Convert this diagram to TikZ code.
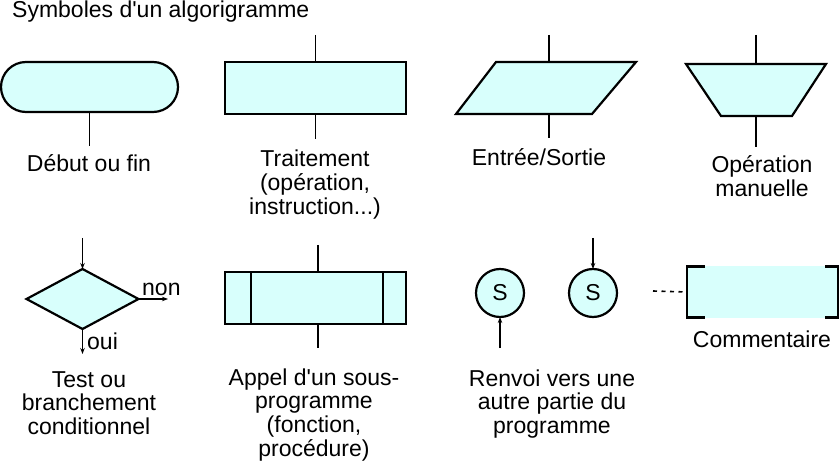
\documentclass[tikz,border=0pt]{standalone}
\usepackage{fontspec}
\setmainfont{Liberation Sans}[Ligatures=TeXOff]
\usetikzlibrary{arrows.meta,shapes.geometric}
\definecolor{shapefill}{RGB}{216,255,252}
\begin{document}
\begin{tikzpicture}[x=1pt,y=-1pt,
  shapeline/.style={draw=black,line width=2.2pt,fill=shapefill,line join=miter},
  link/.style={draw=black,line width=1.8pt},
  divider/.style={draw=black,line width=2.2pt},
  arrowlink/.style={draw=black,line width=1.2pt,-{Stealth[length=6pt,width=4.5pt]}},
  lbl/.style={font=\fontsize{23}{23.7}\selectfont,align=center,anchor=base,inner sep=0pt},
]
\useasboundingbox (0,0) rectangle (840,462);

% title
\node[lbl,anchor=base west] (title) at (12,18) {Symboles d'un algorigramme};

% --- Début ou fin
\node[shapeline,rounded corners=25pt,minimum width=177pt,minimum height=50pt,inner sep=0pt] (term) at (89.5,87) {};
\coordinate (termout) at (89.5,146);
\draw[link] (term.south) -- (termout);
\node[lbl] (termlbl) at (89,172) {Début ou fin};

% --- Traitement
\node[shapeline,minimum width=181pt,minimum height=52pt,inner sep=0pt] (proc) at (315.5,88) {};
\coordinate (procin) at (315.5,35);
\coordinate (procout) at (315.5,139);
\draw[link] (procin) -- (proc.north);
\draw[link] (proc.south) -- (procout);
\node[lbl] (proclbl) at (315,214.4) {Traitement\\(opération,\\instruction...)};

% --- Entrée/Sortie
\draw[shapeline] (496,62) -- (636,62) -- (592,114) -- (456,114) -- cycle;
\coordinate (iotop) at (549,62);
\coordinate (iobot) at (549,114);
\coordinate (ioin) at (549,35);
\coordinate (ioout) at (549,138);
\draw[link] (ioin) -- (iotop);
\draw[link] (iobot) -- (ioout);
\node[lbl] (iolbl) at (539,166) {Entrée/Sortie};

% --- Opération manuelle
\draw[shapeline] (686,64) -- (826,64) -- (792,116) -- (721,116) -- cycle;
\coordinate (mantop) at (756,64);
\coordinate (manbot) at (756,116);
\coordinate (manin) at (756,35);
\coordinate (manout) at (756,147);
\draw[link] (manin) -- (mantop);
\draw[link] (manbot) -- (manout);
\node[lbl] (manlbl) at (762,196.7) {Opération\\manuelle};

% --- Test
\node[shapeline,diamond,aspect=1.9,minimum width=112pt,minimum height=60pt,inner sep=0pt,outer sep=0pt] (test) at (82.5,299) {};
\coordinate (testin) at (82.5,238);
\coordinate (testno) at (168,299);
\coordinate (testyes) at (82.5,354);
\draw[arrowlink] (testin) -- (test.north);
\draw[arrowlink] (test.east) -- (testno);
\draw[arrowlink] (test.south) -- (testyes);
\node[lbl,anchor=base west] (nonlbl) at (142,295) {non};
\node[lbl,anchor=base west] (ouilbl) at (87,349) {oui};
\node[lbl] (testlbl) at (89,434.4) {Test ou\\branchement\\conditionnel};

% --- Sous-programme
\node[shapeline,minimum width=181pt,minimum height=52pt,inner sep=0pt] (sub) at (315.5,298) {};
\draw[divider] (251,272) -- (251,324);
\draw[divider] (383,272) -- (383,324);
\coordinate (subin) at (318,245);
\coordinate (subout) at (318,348);
\draw[link] (subin) -- (subin |- sub.north);
\draw[link] (subout |- sub.south) -- (subout);
\node[lbl] (sublbl) at (314,456.1) {Appel d'un sous-\\programme\\(fonction,\\procédure)};

% --- Renvoi
\node[shapeline,circle,minimum size=48pt,inner sep=0pt,outer sep=0pt,font=\fontsize{23}{23.7}\selectfont] (s1) at (500,293) {S};
\node[shapeline,circle,minimum size=48pt,inner sep=0pt,outer sep=0pt,font=\fontsize{23}{23.7}\selectfont] (s2) at (593,293) {S};
\coordinate (s1in) at (500,348);
\coordinate (s2in) at (593,238);
\draw[arrowlink] (s1in) -- (s1.south);
\draw[arrowlink] (s2in) -- (s2.north);
\node[lbl] (renlbl) at (552,433.4) {Renvoi vers une\\autre partie du\\programme};

% --- Commentaire
\node[fill=shapefill,minimum width=151pt,minimum height=51pt,inner sep=0pt,outer sep=0pt] (comm) at (762.5,292) {};
\draw[divider] (705,266.5) -- (687,266.5) -- (687,317.5) -- (705,317.5);
\draw[divider] (825,266.5) -- (838,266.5) -- (838,317.5) -- (825,317.5);
\coordinate (commdot) at (653,291);
\draw[draw=black,line width=1.6pt,dash pattern=on 4pt off 4.5pt] (commdot) -- (comm.west);
\node[lbl] (commlbl) at (762,347) {Commentaire};
\end{tikzpicture}
\end{document}
